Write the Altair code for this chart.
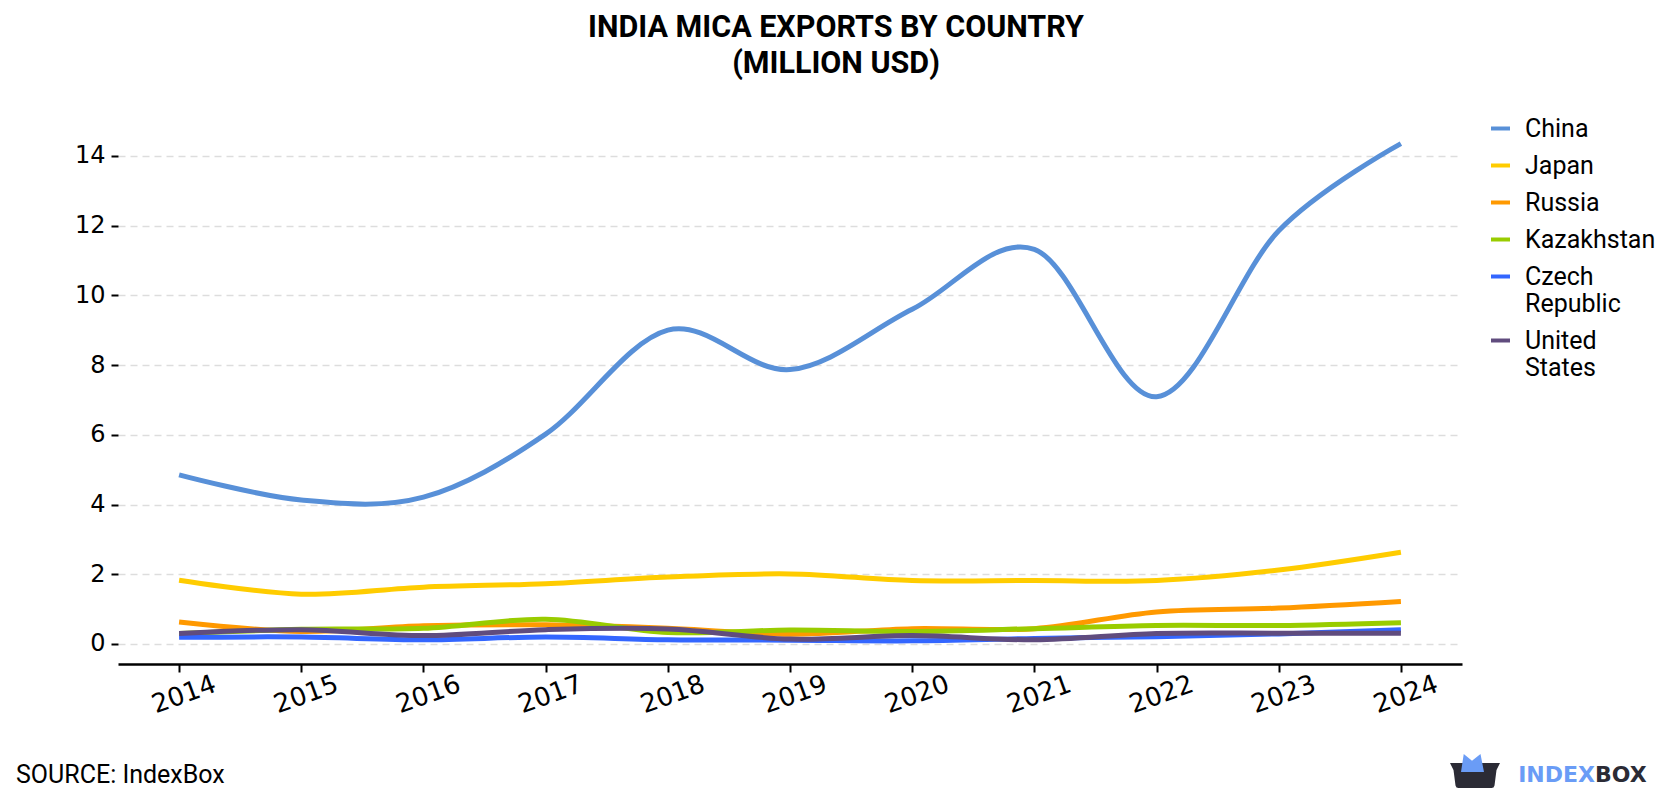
import altair as alt
import pandas as pd

# Export values, million USD
years = list(range(2014, 2025))
countries = ["China", "Japan", "Russia", "Kazakhstan", "Czech Republic", "United States"]
china = [4.85, 4.13, 4.21, 6.02, 9.0, 7.87, 9.6, 11.32, 7.09, 11.85, 14.35]
japan = [1.83, 1.43, 1.63, 1.73, 1.92, 2.01, 1.82, 1.82, 1.82, 2.12, 2.63]
russia = [0.63, 0.36, 0.52, 0.55, 0.45, 0.28, 0.44, 0.44, 0.92, 1.03, 1.22]
kazakhstan = [0.30, 0.42, 0.45, 0.71, 0.33, 0.40, 0.36, 0.44, 0.53, 0.53, 0.61]
czech_republic = [0.19, 0.20, 0.12, 0.20, 0.12, 0.11, 0.09, 0.16, 0.21, 0.29, 0.41]
united_states = [0.30, 0.41, 0.24, 0.41, 0.43, 0.14, 0.24, 0.12, 0.30, 0.31, 0.31]
colors = ["#5890d8", "#ffcc00", "#ff9900", "#99cc00", "#3366ff", "#604c7e"]
y_ticks = [0, 2, 4, 6, 8, 10, 12, 14]

series = [china, japan, russia, kazakhstan, czech_republic, united_states]
rows = []
for name, vals in zip(countries, series):
    for yr, v in zip(years, vals):
        rows.append({"year": yr, "country": name, "value": v})
df = pd.DataFrame(rows)

W, H = 1344, 543
PAD_L, PAD_T = 118, 121

lines = alt.Chart(df).mark_line(strokeWidth=5, interpolate="cardinal").encode(
    x=alt.X(
        "year:O",
        scale=alt.Scale(type="point", padding=0.5),
        axis=alt.Axis(
            title=None,
            labelAngle=340,
            labelAlign="center",
            labelBaseline="top",
            labelFont="DejaVu Sans",
            labelFontSize=26,
            labelColor="#000000",
            labelPadding=10,
            domainColor="#000000",
            domainWidth=2.5,
            tickColor="#000000",
            tickSize=8,
            tickWidth=2,
            grid=False,
        ),
    ),
    y=alt.Y(
        "value:Q",
        scale=alt.Scale(domain=[-0.574, 15], nice=False, zero=False),
        axis=alt.Axis(
            title=None,
            values=y_ticks,
            format="d",
            labelFont="DejaVu Sans",
            labelFontSize=24,
            labelColor="#000000",
            labelPadding=6,
            domain=False,
            tickColor="#000000",
            tickSize=7,
            tickWidth=2,
            grid=True,
            gridColor="#dddddd",
            gridDash=[7, 5],
            gridWidth=1.5,
        ),
    ),
    color=alt.Color(
        "country:N",
        scale=alt.Scale(domain=countries, range=colors),
        sort=countries,
        legend=alt.Legend(
            title=None,
            orient="none",
            legendX=1370,
            legendY=-5,
            symbolType="stroke",
            symbolSize=361,
            symbolStrokeWidth=4,
            labelFont="Roboto",
            labelFontSize=25,
            labelColor="#000000",
            labelOffset=12,
            rowPadding=11,
            labelExpr="split(datum.label, ' ')",
        ),
    ),
)

source = alt.Chart(pd.DataFrame({"t": ["SOURCE: IndexBox"]})).mark_text(
    align="left", baseline="middle", font="Roboto", fontSize=25, color="#000000"
).encode(x=alt.value(16 - PAD_L), y=alt.value(775 - PAD_T), text="t:N")

logo_index = alt.Chart(pd.DataFrame({"t": ["INDEX"]})).mark_text(
    align="right", baseline="middle", font="DejaVu Sans", fontSize=22, fontWeight="bold", color="#6a9cf6"
).encode(x=alt.value(1595 - PAD_L), y=alt.value(775 - PAD_T), text="t:N")

logo_box = alt.Chart(pd.DataFrame({"t": ["BOX"]})).mark_text(
    align="left", baseline="middle", font="DejaVu Sans", fontSize=22, fontWeight="bold", color="#2b2b35"
).encode(x=alt.value(1595 - PAD_L), y=alt.value(775 - PAD_T), text="t:N")

box_path = ("M-1,-0.48 L1,-0.48 L0.86,-0.2 L0.78,0.42 Q0.76,0.52 0.66,0.52 "
            "L-0.66,0.52 Q-0.76,0.52 -0.78,0.42 L-0.86,-0.2 Z")
ears_path = "M-0.56,-0.12 L-0.45,-0.84 L-0.12,-0.57 L0.22,-0.84 L0.36,-0.12 Z"

logo_box_icon = alt.Chart(pd.DataFrame({"k": [0]})).mark_point(
    shape=box_path, size=2500, filled=True, color="#2b2b35", opacity=1, strokeWidth=0
).encode(x=alt.value(1475 - PAD_L), y=alt.value(775 - PAD_T))

logo_ears_icon = alt.Chart(pd.DataFrame({"k": [0]})).mark_point(
    shape=ears_path, size=2500, filled=True, color="#6a9cf6", opacity=1, strokeWidth=0
).encode(x=alt.value(1475 - PAD_L), y=alt.value(775 - PAD_T))

chart = alt.layer(
    lines, source, logo_box_icon, logo_ears_icon, logo_index, logo_box
).properties(
    width=W,
    height=H,
    padding={"left": PAD_L, "top": PAD_T, "right": 1680 - PAD_L - W, "bottom": 800 - PAD_T - H},
    autosize=alt.AutoSizeParams(type="none"),
    title=alt.TitleParams(
        text=["INDIA MICA EXPORTS BY COUNTRY", "(MILLION USD)"],
        font="Roboto",
        fontSize=30.5,
        fontWeight="bold",
        color="#000000",
        anchor="middle",
        dx=46,
        offset=37,
        lineHeight=36,
    ),
).configure(background="#ffffff").configure_view(stroke=None)

chart.save("out.html", embed_options={"renderer": "svg", "actions": False})
